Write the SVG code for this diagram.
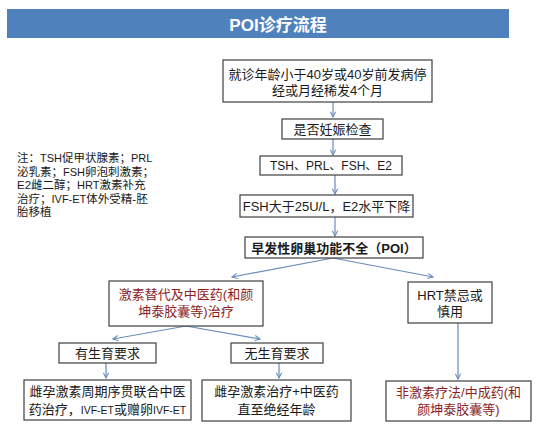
<svg xmlns="http://www.w3.org/2000/svg" width="544" height="429" viewBox="0 0 544 429">
<defs>
<style>
text{font-family:"Liberation Sans","Noto Sans CJK SC",sans-serif;font-size:13px;fill:#1a1a1a;text-anchor:middle}
.box{fill:#fff;stroke:#3f3f3f;stroke-width:1.2}
.red{fill:#8b1d1d}
.note{text-anchor:start;font-size:11.5px}
.lat{font-size:11px}
.con{stroke:#6a8cbb;stroke-width:1.2;fill:none;marker-end:url(#ah)}
</style>
<marker id="ah" viewBox="0 0 8 8" refX="7" refY="4" markerWidth="7" markerHeight="7" orient="auto" markerUnits="userSpaceOnUse">
<path d="M1,1 L7,4 L1,7" fill="none" stroke="#6a8cbb" stroke-width="1.2"/>
</marker>
</defs>
<rect width="544" height="429" fill="#fff"/>
<g id="title">
<rect x="7" y="9" width="502" height="29" fill="#4f81bd"/>
<text x="278" y="31" style="font-size:17px;font-weight:bold;fill:#fff">POI诊疗流程</text>
</g>
<g id="notes">
<text class="note" x="17" y="162">注：<tspan class="lat">TSH</tspan>促甲状腺素；<tspan class="lat">PRL</tspan></text>
<text class="note" x="17" y="175.5">泌乳素；<tspan class="lat">FSH</tspan>卵泡刺激素；</text>
<text class="note" x="17" y="189">E2雌二醇；<tspan class="lat">HRT</tspan>激素补充</text>
<text class="note" x="17" y="202.5">治疗；<tspan class="lat">IVF-ET</tspan>体外受精-胚</text>
<text class="note" x="17" y="216">胎移植</text>
</g>
<g id="connectors">
<path class="con" d="M333,102 V117"/>
<path class="con" d="M333,139 V155"/>
<path class="con" d="M335,175 V194"/>
<path class="con" d="M335,217 V236"/>
<path class="con" d="M333,258 L232,277"/>
<path class="con" d="M333,258 L433,277"/>
<path class="con" d="M186,326 L113,339"/>
<path class="con" d="M186,326 L260,339"/>
<path class="con" d="M106,363 V378"/>
<path class="con" d="M279,363 V378"/>
<path class="con" d="M458,323 V379"/>
</g>
<g id="n1">
<rect class="box" x="223" y="60" width="209" height="42"/>
<text x="327.5" y="79">就诊年龄小于40岁或40岁前发病停</text>
<text x="327.5" y="95">经或月经稀发4个月</text>
</g>
<g id="n2">
<rect class="box" x="282" y="119" width="101" height="20"/>
<text x="332.5" y="134">是否妊娠检查</text>
</g>
<g id="n3">
<rect class="box" x="260" y="156" width="142" height="19"/>
<text x="331" y="170" style="font-size:12px">TSH、PRL、FSH、E2</text>
</g>
<g id="n4">
<rect class="box" x="240" y="195" width="173" height="22"/>
<text x="326.5" y="211">FSH大于25U/L，E2水平下降</text>
</g>
<g id="n5">
<rect class="box" x="245" y="237" width="178" height="21"/>
<text x="334" y="253" style="font-weight:bold">早发性卵巢功能不全（POI）</text>
</g>
<g id="n6">
<rect class="box" x="109" y="281" width="154" height="45"/>
<text class="red" x="186" y="299">激素替代及中医药(和颜</text>
<text class="red" x="186" y="316">坤泰胶囊等)治疗</text>
</g>
<g id="n7">
<rect class="box" x="408" y="282" width="84" height="41"/>
<text x="450" y="300">HRT禁忌或</text>
<text x="450" y="316">慎用</text>
</g>
<g id="n8">
<rect class="box" x="59" y="343" width="97" height="20"/>
<text x="107.5" y="358">有生育要求</text>
</g>
<g id="n9">
<rect class="box" x="231" y="343" width="92" height="20"/>
<text x="277" y="358">无生育要求</text>
</g>
<g id="n10">
<rect class="box" x="24" y="380" width="167" height="40"/>
<text x="107.5" y="396">雌孕激素周期序贯联合中医</text>
<text x="107.5" y="414">药治疗，<tspan class="lat" style="font-size:10.5px">IVF-ET</tspan>或赠卵<tspan class="lat" style="font-size:10.5px">IVF-ET</tspan></text>
</g>
<g id="n11">
<rect class="box" x="202" y="380" width="149" height="41"/>
<text x="276.5" y="396">雌孕激素治疗+中医药</text>
<text x="276.5" y="414">直至绝经年龄</text>
</g>
<g id="n12">
<rect class="box" x="386" y="381" width="145" height="40"/>
<text class="red" x="458.5" y="397">非激素疗法/中成药(和</text>
<text class="red" x="458.5" y="414">颜坤泰胶囊等)</text>
</g>
</svg>
